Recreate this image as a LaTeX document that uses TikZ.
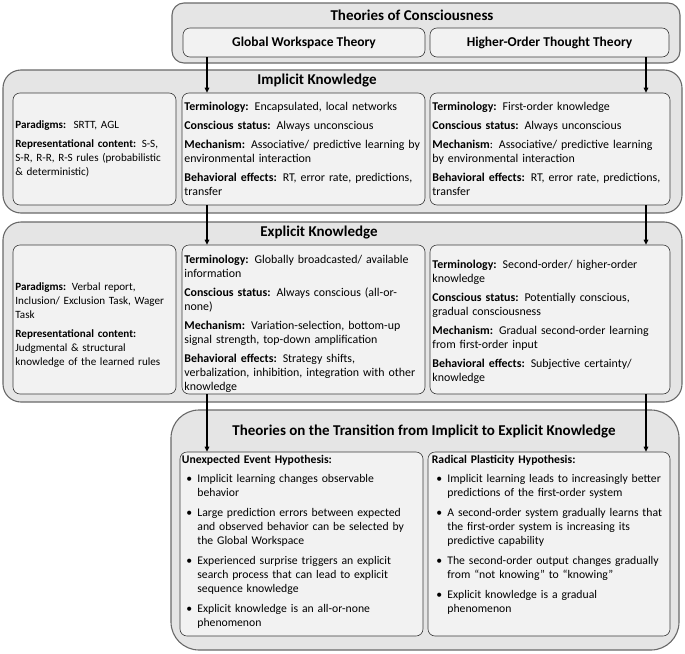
\documentclass[tikz,border=0pt]{standalone}
\usepackage{fontspec}
\setmainfont{Carlito}
\usetikzlibrary{arrows.meta}

\definecolor{outerfill}{RGB}{229,229,229}
\definecolor{outerdraw}{RGB}{105,105,105}
\definecolor{innerfill}{RGB}{242,242,242}
\definecolor{innerdraw}{RGB}{60,60,60}

\newcommand\bitem[1]{\par\vspace{5pt}\noindent\begin{tabular}[t]{@{\hspace{4.5pt}}p{11pt}@{}l@{}}•&#1\end{tabular}}

\begin{document}
\begin{tikzpicture}[x=1pt,y=-1pt,
  outerbox/.style={draw=outerdraw, fill=outerfill, line width=1.1pt, rounded corners=18pt, inner sep=0pt},
  innerbox/.style={draw=innerdraw, fill=innerfill, line width=0.6pt, rounded corners=7pt, inner sep=0pt},
  bodytext/.style={font=\fontsize{11.9}{14}\selectfont, align=left, inner sep=0pt, text width=#1},
  sidetext/.style={font=\fontsize{11.1}{14}\selectfont, align=left, inner sep=0pt, text width=#1},
  bullettext/.style={font=\fontsize{11.7}{14}\selectfont, inner sep=0pt, text width=#1},
  bigtitle/.style={font=\fontsize{15}{17}\selectfont\bfseries, inner sep=0pt},
  subtitle/.style={font=\fontsize{13.5}{15}\selectfont\bfseries, inner sep=0pt},
  arr/.style={line width=1.3pt, -{Triangle[length=5pt,width=4.5pt]}}
]
\useasboundingbox (0,0) rectangle (685,653);

% ---------- Theories of consciousness ----------
\node[outerbox, rounded corners=12pt, minimum width=508pt, minimum height=60pt] (toc) at (426,33) {};
\node[bigtitle] (toct) at (412,15) {Theories of Consciousness};
\node[innerbox, minimum width=242pt, minimum height=29pt, subtitle] (gwt) at (304,42.5) {Global Workspace Theory};
\node[innerbox, minimum width=239pt, minimum height=29pt, subtitle] (hot) at (549.5,42.5) {Higher-Order Thought Theory};

% ---------- Implicit knowledge ----------
\node[outerbox, minimum width=679pt, minimum height=143pt] (imp) at (342.5,141.5) {};
\node[bigtitle] (impt) at (317,81) {Implicit Knowledge};
\node[innerbox, minimum width=163pt, minimum height=112pt] (il) at (94.5,149) {};
\node[innerbox, minimum width=243pt, minimum height=112pt] (im) at (303.5,149) {};
\node[innerbox, minimum width=240pt, minimum height=112pt] (ir) at (550,149) {};

\node[sidetext=175pt, anchor=west] (ilt) at ([xshift=2.5pt]il.west) {%
\textbf{Paradigms:}\ \ SRTT, AGL\\[5pt]
\textbf{Representational content:} S-S,\\
S-R, R-R, R-S rules (probabilistic\\
\& deterministic)};
\node[bodytext=260pt, anchor=west] (imt) at ([xshift=2.5pt]im.west) {%
\textbf{Terminology:} Encapsulated, local networks\\[5pt]
\textbf{Conscious status:} Always unconscious\\[5pt]
\textbf{Mechanism:} Associative/ predictive learning by\\
environmental interaction\\[5pt]
\textbf{Behavioral effects:} RT, error rate, predictions,\\
transfer};
\node[bodytext=260pt, anchor=west] (irt) at ([xshift=2.5pt]ir.west) {%
\textbf{Terminology:} First-order knowledge\\[5pt]
\textbf{Conscious status:} Always unconscious\\[5pt]
\textbf{Mechanism}: Associative/ predictive learning\\
by environmental interaction\\[5pt]
\textbf{Behavioral effects:} RT, error rate, predictions,\\
transfer};

% ---------- Explicit knowledge ----------
\node[outerbox, minimum width=679pt, minimum height=180pt] (exp) at (342.5,312) {};
\node[bigtitle] (expt) at (319,233) {Explicit Knowledge};
\node[innerbox, minimum width=163pt, minimum height=149pt] (el) at (94.5,319.5) {};
\node[innerbox, minimum width=243pt, minimum height=149pt] (em) at (303.5,319.5) {};
\node[innerbox, minimum width=240pt, minimum height=149pt] (er) at (550,319.5) {};

\node[sidetext=175pt, anchor=west] (elt) at ([xshift=2.5pt,yshift=-6pt]el.west) {%
\textbf{Paradigms:} Verbal report,\\
Inclusion/ Exclusion Task, Wager\\
Task\\[5pt]
\textbf{Representational content:}\\
Judgmental \& structural\\
knowledge of the learned rules};
\node[bodytext=260pt, anchor=west] (emt) at ([xshift=2.5pt,yshift=-4pt]em.west) {%
\textbf{Terminology:} Globally broadcasted/ available\\
information\\[5pt]
\textbf{Conscious status:} Always conscious (all-or-\\
none)\\[5pt]
\textbf{Mechanism:} Variation-selection, bottom-up\\
signal strength, top-down amplification\\[5pt]
\textbf{Behavioral effects:} Strategy shifts,\\
verbalization, inhibition, integration with other\\
knowledge};
\node[bodytext=260pt, anchor=west] (ert) at ([xshift=2.5pt,yshift=-2pt]er.west) {%
\textbf{Terminology:} Second-order/ higher-order\\
knowledge\\[5pt]
\textbf{Conscious status:} Potentially conscious,\\
gradual consciousness\\[5pt]
\textbf{Mechanism:} Gradual second-order learning\\
from first-order input\\[5pt]
\textbf{Behavioral effects:} Subjective certainty/\\
knowledge};

% ---------- Transition theories ----------
\node[outerbox, rounded corners=28pt, minimum width=508pt, minimum height=240pt] (tr) at (425,530) {};
\node[bigtitle] (trt) at (424,431) {Theories on the Transition from Implicit to Explicit Knowledge};
\node[innerbox, minimum width=243pt, minimum height=184pt] (ue) at (301.5,544) {};
\node[innerbox, minimum width=242pt, minimum height=184pt] (rp) at (549,544) {};

\node[bullettext=260pt, anchor=north west] (uet) at ([xshift=2pt,yshift=-3pt]ue.north west) {%
\noindent\textbf{Unexpected Event Hypothesis:}
\bitem{Implicit learning changes observable\\&behavior}
\bitem{Large prediction errors between expected\\&and observed behavior can be selected by\\&the Global Workspace}
\bitem{Experienced surprise triggers an explicit\\&search process that can lead to explicit\\&sequence knowledge}
\bitem{Explicit knowledge is an all-or-none\\&phenomenon}};
\node[bullettext=260pt, anchor=north west] (rpt) at ([xshift=4pt,yshift=-3pt]rp.north west) {%
\noindent\textbf{Radical Plasticity Hypothesis:}
\bitem{Implicit learning leads to increasingly better\\&predictions of the first-order system}
\bitem{A second-order system gradually learns that\\&the first-order system is increasing its\\&predictive capability}
\bitem{The second-order output changes gradually\\&from “not knowing” to “knowing”}
\bitem{Explicit knowledge is a gradual\\&phenomenon}};

% ---------- connectors ----------
\coordinate (colL) at (207,0);
\coordinate (colR) at (646,0);
\draw[arr] (colL |- gwt.south) -- (colL |- im.north);
\draw[arr] (colL |- im.south) -- (colL |- em.north);
\draw[arr] (colL |- em.south) -- (colL |- ue.north);
\draw[arr] (colR |- hot.south) -- (colR |- ir.north);
\draw[arr] (colR |- ir.south) -- (colR |- er.north);
\draw[arr] (colR |- er.south) -- (colR |- rp.north);
\end{tikzpicture}
\end{document}
